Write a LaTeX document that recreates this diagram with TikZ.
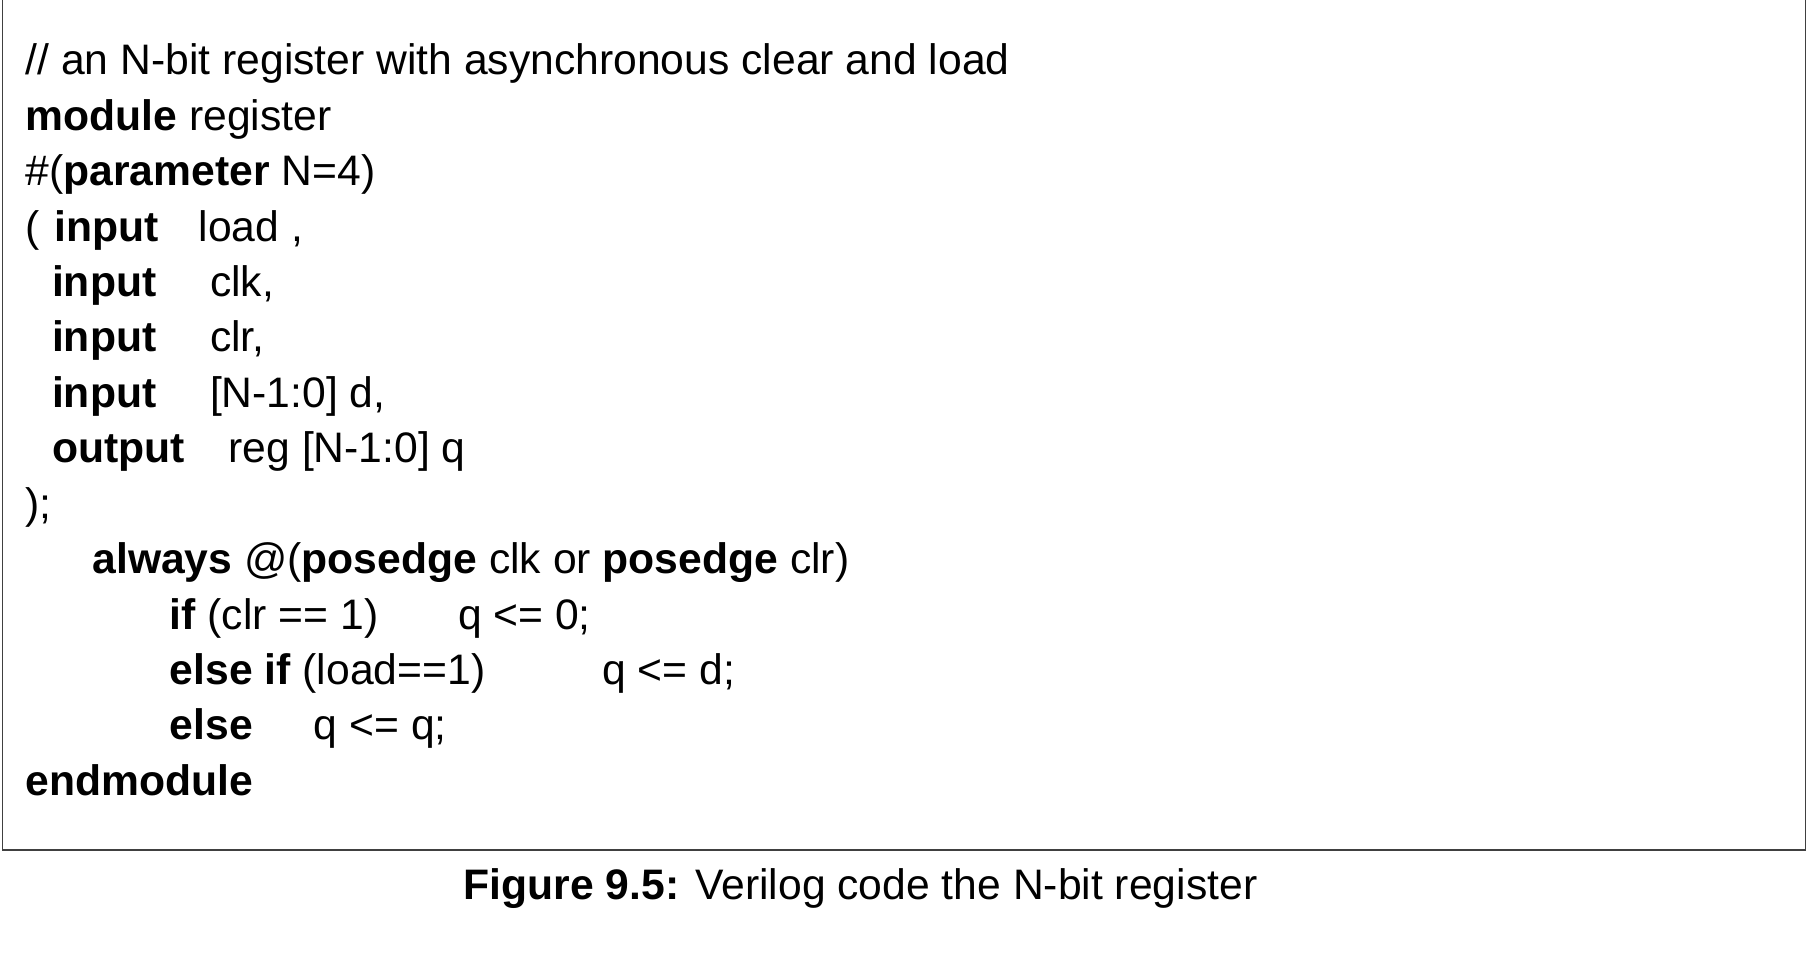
\documentclass[tikz,border=0pt]{standalone}
\usepackage{fontspec}
\setmainfont{Liberation Sans}
\begin{document}
\begin{tikzpicture}[x=1pt,y=-1pt,
  code/.style={anchor=base west,inner sep=0pt,font=\fontsize{37}{44}\selectfont}]
\useasboundingbox (0,0) rectangle (1568,849);
\draw[line width=1.2pt,black!75] (2,-2) -- (2,737) -- (1566,737) -- (1566,-2);
\def\b#1{65+48.05*#1}
\node[code] (l0) at (22,{\b0}) {// an N-bit register with asynchronous clear and load};
\node[code] (l1) at (22,{\b1}) {\textbf{module} register};
\node[code] (l2) at (22,{\b2}) {\#(\textbf{parameter} N=4)};
\node[code] (l3a) at (22,{\b3}) {(};
\node[code] (l3b) at (47,{\b3}) {\textbf{input}};
\node[code] (l3c) at (172,{\b3}) {load ,};
\node[code] (l4a) at (45,{\b4}) {\textbf{input}};
\node[code] (l4b) at (182,{\b4}) {clk,};
\node[code] (l5a) at (45,{\b5}) {\textbf{input}};
\node[code] (l5b) at (182,{\b5}) {clr,};
\node[code] (l6a) at (45,{\b6}) {\textbf{input}};
\node[code] (l6b) at (182,{\b6}) {[N-1:0] d,};
\node[code] (l7a) at (45,{\b7}) {\textbf{output}};
\node[code] (l7b) at (198,{\b7}) {reg [N-1:0] q};
\node[code] (l8) at (22,{\b8}) {);};
\node[code] (l9) at (80,{\b9}) {\textbf{always} @(\textbf{posedge} clk or \textbf{posedge} clr)};
\node[code] (l10a) at (147,{\b{10}}) {\textbf{if} (clr == 1)};
\node[code] (l10b) at (397,{\b{10}}) {q <= 0;};
\node[code] (l11a) at (147,{\b{11}}) {\textbf{else if} (load==1)};
\node[code] (l11b) at (522,{\b{11}}) {q <= d;};
\node[code] (l12a) at (147,{\b{12}}) {\textbf{else}};
\node[code] (l12b) at (272,{\b{12}}) {q <= q;};
\node[code] (l13) at (22,{\b{13}}) {\textbf{endmodule}};
\node[code] (cap) at (402,780) {\textbf{Figure 9.5:} Verilog code the N-bit register};
\end{tikzpicture}
\end{document}
